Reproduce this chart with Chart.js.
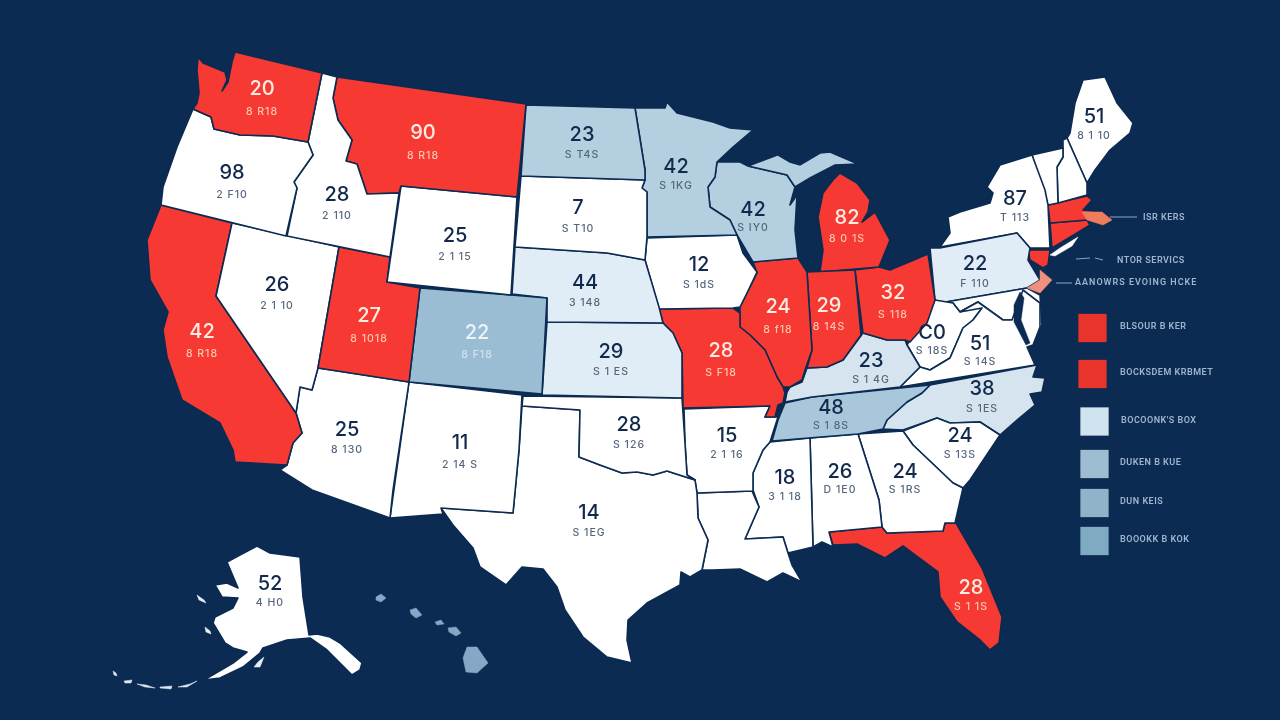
<!DOCTYPE html>
<html>
<head>
<meta charset="utf-8">
<title>US map</title>
<script src="https://cdn.jsdelivr.net/npm/chart.js@4/dist/chart.umd.min.js"></script>
<style>
html, body { margin: 0; padding: 0; background: #0c2b52; }
canvas { display: block; }
</style>
</head>
<body>
<canvas id="mapChart" width="1280" height="720"></canvas>
<script>
// values
const stateCodes  = ["WA","MT","OR","ID","WY","CA","NV","UT","CO","AZ","NM","ND","SD","NE","KS","OK","TX","MN","IA","MO","AR","WI","IL","IN","MI","OH","KY","TN","MS","AL","GA","FL","SC","NC","VA","WV","PA","NY","ME","AK"];
const stateValues = ["20","90","98","28","25","42","26","27","22","25","11","23","7","44","29","28","14","42","12","28","15","42","24","29","82","32","23","48","18","26","24","28","24","38","51","C0","22","87","51","52"];
const stateNotes  = ["8 R18","8 R18","2 F10","2 110","2 1 15","8 R18","2 1 10","8 1018","8 F18","8 130","2 14 S","S T4S","S T10","3 148","S 1 ES","S 126","S 1EG","S 1KG","S 1dS","S F18","2 1 16","S IY0","8 f18","8 14S","8 0 1S","S 118","S 1 4G","S 1 8S","3 1 18","D 1E0","S 1RS","S 1 1S","S 13S","S 1ES","S 14S","S 18S","F 110","T 113","8 1 10","4 H0"];
const stateTones  = ["red","red","white","white","white","red","white","red","steel","white","white","mist","white","ice","ice","white","white","mist","white","red","white","mist","red","red","red","red","pale","sky","white","white","white","red","white","pale","white","white","ice","white","white","white"];

const calloutLabels = ["ISR KERS", "NTOR SERVICS", "AANOWRS EVOING HCKE"];
const legendLabels  = ["BLSOUR B KER", "BOCKSDEM KRBMET", "BOCOONK'S BOX", "DUKEN B KUE", "DUN KEIS", "BOOOKK B KOK"];
const legendTones   = ["#e8342d", "#e8342d", "#d0e4ef", "#9fbdd2", "#90b3c9", "#7eaac2"];

const toneColors = { red: "#f63a33", white: "#ffffff", ice: "#e0edf6", pale: "#d5e4ef", mist: "#b4cfdf", sky: "#a9c7da", steel: "#9bbdd3" };
const inkColor = "#0c2b52";

// outlines in map units, the scales below turn them into pixels
const stateOutlines = {
  WA: [198,57,203,63,225,72,227,80,222,91,228,82,232,62,235,52,322,73,308,142,273,136,240,135,214,129,211,117,193,109,197,103,199,93,197,70],
  OR: [193,109,211,117,214,129,240,135,273,136,308,142,313,155,294,182,297,188,286,236,161,205,163,187,177,147],
  ID: [322,73,337,77,333,98,338,120,352,140,346,161,357,164,367,194,399,193,390,257,287,236,297,188,294,182,313,155,308,142],
  MT: [337,77,526,104,517,197,401,186,399,193,367,194,357,164,346,161,352,140,338,120,333,98],
  WY: [401,186,517,197,511,295,387,282],
  UT: [339,247,390,257,387,282,420,288,409,382,318,368],
  CO: [420,288,511,295,547,298,542,394,409,382],
  NV: [232,223,339,247,318,368,312,390,300,387,296,413,216,296],
  CA: [161,205,232,223,216,296,296,413,302,433,293,443,287,465,235,462,233,450,220,423,182,400,167,357,163,330,168,312,150,280,147,240],
  AZ: [318,368,409,382,393,490,390,518,312,490,280,470,287,465,293,443,302,433,296,413,300,387,312,390],
  NM: [409,382,522,395,519,450,513,513,441,508,443,514,390,518],
  ND: [526,105,635,108,645,170,645,180,521,176],
  SD: [521,176,645,180,642,188,647,192,647,237,645,260,618,255,607,253,515,247],
  NE: [515,247,607,253,618,255,645,260,659,307,663,323,547,322,547,298,512,294],
  KS: [547,322,663,323,673,333,682,353,682,398,542,395],
  OK: [523,396,682,398,685,443,687,475,695,480,667,471,653,475,637,472,622,473,600,465,579,457,580,410,522,406],
  TX: [522,406,580,410,579,457,600,465,622,473,637,472,653,475,667,471,695,480,697,493,698,518,708,540,702,570,690,577,681,572,680,585,647,603,628,620,627,640,632,663,607,657,583,637,565,610,557,587,543,569,522,567,506,585,480,567,473,548,453,525,441,508,513,513,519,450],
  MN: [635,108,665,108,667,102,677,113,713,122,730,128,753,130,733,147,717,162,715,177,708,187,710,207,730,220,737,235,647,237,647,192,642,188,645,180,645,170],
  IA: [647,238,737,235,743,253,757,272,747,293,740,307,733,308,659,309,645,260],
  MO: [659,309,733,308,740,313,740,327,750,335,765,350,777,377,783,387,785,393,783,403,778,405,775,417,765,417,770,406,683,408,682,353,673,333,663,323],
  AR: [684,409,770,406,765,417,778,417,770,442,763,450,753,473,753,491,697,493,695,480,687,475,685,443],
  LA: [697,493,752,491,759,507,745,539,783,537,788,553,792,565,802,582,783,573,767,582,740,569,713,570,702,570,708,540,698,518],
  WI: [717,162,740,162,748,166,787,175,795,187,790,205,797,195,795,230,798,258,753,262,737,235,730,220,710,207,708,187,715,177],
  IL: [753,262,798,258,807,272,812,350,805,370,802,380,790,387,783,387,777,377,765,350,750,335,740,327,740,307,747,293,757,273],
  IN: [807,272,855,270,861,335,843,360,827,367,807,368,812,350],
  MI: [840,173,857,183,870,200,868,212,862,222,875,212,890,240,879,267,820,272,823,250,818,217,823,193,833,180],
  OH: [855,270,879,267,890,270,928,254,935,300,927,323,910,342,905,340,887,340,863,333],
  KY: [787,392,785,402,812,397,900,387,920,367,907,345,905,340,887,340,863,333,843,360,827,367,807,368,802,382,790,387],
  TN: [785,403,812,397,930,385,922,393,907,402,887,420,883,429,858,434,772,441,778,420],
  MS: [770,442,810,438,813,547,788,553,783,537,745,539,759,507,753,490,753,473,763,450],
  AL: [810,438,858,434,879,500,882,527,829,532,833,547,822,542,813,547],
  GA: [858,434,903,431,913,445,953,483,963,488,955,523,945,523,943,531,887,533,882,527,879,500],
  FL: [829,532,882,527,887,533,943,531,945,523,956,523,982,568,1002,617,999,643,990,650,980,640,957,622,940,597,938,572,903,546,885,558,857,544,833,545],
  SC: [903,431,937,418,950,423,980,422,1000,435,970,480,963,488,953,483,913,445],
  NC: [930,385,1037,365,1033,377,1045,378,1042,392,1030,394,1035,405,1017,420,1000,435,980,422,950,423,937,418,903,430,883,429,887,420,907,402,922,393],
  VA: [960,312,978,302,1003,320,1012,320,1023,290,1040,303,1040,327,1033,345,1027,347,1035,365,900,387,920,367,930,370,950,358,963,328,973,320,982,308],
  WV: [907,345,913,335,920,323,935,300,953,303,960,312,978,302,982,308,973,320,963,328,950,358,930,370,920,367],
  MD: [940,303,1027,288,1040,295,1042,325,1030,345,1012,320,1003,320,978,302,960,312,953,303],
  PA: [930,248,940,248,1017,233,1030,248,1028,260,1040,280,1027,288,940,303,935,300],
  NY: [940,247,950,233,948,217,960,212,990,203,993,193,987,187,1000,165,1032,155,1045,190,1048,205,1050,248,1030,248,1017,233],
  VT: [1032,155,1063,148,1063,157,1057,167,1058,203,1048,205],
  NH: [1063,140,1067,138,1087,183,1087,195,1058,203,1057,167,1063,157],
  ME: [1067,138,1070,133,1075,103,1083,80,1105,77,1117,103,1133,123,1130,133,1110,150,1095,170,1087,183],
  MA: [1048,205,1087,196,1092,200,1083,210,1102,212,1112,220,1103,225,1087,220,1050,223],
  CT: [1050,223,1087,220,1090,225,1077,233,1052,248],
  NJ: [1028,250,1050,250,1048,265,1043,268,1030,260],
  AK: [257,546,270,553,300,557,303,597,309,635,317,634,330,637,340,643,362,663,360,670,352,675,327,650,310,638,287,640,263,648,260,653,243,667,220,678,204,680,233,663,247,652,233,648,225,643,213,623,215,617,233,608,238,598,222,597,215,585,227,583,238,588,227,562,240,555]
};

// bits of land and water that carry no label
const extraShapes = [
  { path: [748,166,777,155,785,140,778,155,790,162,800,165,820,153,830,152,858,164,835,165,810,178,795,187,787,175], fill: "#b4cfdf", line: true },
  { path: [1040,270,1052,280,1040,293,1027,288,1040,280], fill: "#ef8f80", line: false },
  { path: [1082,212,1102,212,1112,220,1103,225,1087,220], fill: "#ee7d5e", line: false },
  { path: [1020,292,1024,298,1021,320,1030,343,1026,345,1014,322,1014,305], fill: inkColor, line: false },
  { path: [1050,255,1060,248,1078,237,1072,246,1055,256], fill: "#ffffff", line: false },
  { path: [258,662,264,657,260,667,254,667], fill: "#e8f0f6", line: false },
  { path: [197,595,204,600,206,603,199,600], fill: "#e8f0f6", line: false },
  { path: [205,627,210,631,211,634,206,632], fill: "#e8f0f6", line: false },
  { path: [113,671,116,673,117,676,114,675], fill: "#dce8f0", line: false },
  { path: [124,681,132,680,131,683,125,683], fill: "#dce8f0", line: false },
  { path: [137,684,146,685,155,688,145,687], fill: "#dce8f0", line: false },
  { path: [160,687,172,686,171,689,160,688], fill: "#dce8f0", line: false },
  { path: [178,687,190,684,197,681,187,687], fill: "#dce8f0", line: false },
  { path: [376,597,381,594,386,598,381,602,376,600], fill: "#86a8c6", line: false },
  { path: [410,610,416,608,422,615,416,618,411,614], fill: "#86a8c6", line: false },
  { path: [435,622,441,620,444,624,437,625], fill: "#86a8c6", line: false },
  { path: [448,628,456,627,461,633,456,636,449,632], fill: "#86a8c6", line: false },
  { path: [467,647,477,647,488,663,477,673,466,672,463,658], fill: "#86a8c6", line: false }
];

const calloutRules = [
  { path: [1110,217,1137,217], width: 1 },
  { path: [1076,259,1090,258], width: 1 },
  { path: [1095,258,1103,260], width: 1 },
  { path: [1056,283,1072,283], width: 1 }
];

const labelX = [262,423,232,337,455,202,277,369,477,347,460,582,578,585,611,629,589,676,699,721,727,753,778,829,847,893,871,831,785,840,905,971,960,982,980,932,975,1015,1094,270];
const labelY = [89,133,173,195,236,332,285,316,333,430,443,135,208,283,352,425,513,167,265,351,436,210,307,306,218,293,361,408,478,472,472,588,436,389,344,333,264,199,117,584];
const noteY  = [112,156,195,216,257,354,306,339,355,450,465,155,229,303,372,445,533,186,285,373,455,228,330,327,239,315,380,426,497,490,490,607,455,409,362,351,284,218,136,603];

const calloutX = [1143,1117,1075];
const calloutY = [218,261,283];
const calloutSpacing = ["0.5px","0.5px","1px"];
const legendX = [1092.5,1092.5,1094.5,1094.5,1094.5,1094.5];
const legendY = [328,374,421.5,464,503,541];
const legendTextX = [1120,1120,1121,1120,1120,1120];

function toPoints(flat){
    const points = [];
    for(let i = 0; i < flat.length; i += 2){
        points.push({ x: flat[i], y: flat[i + 1] });
    }
    points.push({ x: flat[0], y: flat[1] });
    return points;
}

const datasets = [];

Object.keys(stateOutlines).forEach(code => {
    const idx = stateCodes.indexOf(code);
    let fill = "#ffffff";
    if(idx >= 0) fill = toneColors[stateTones[idx]];
    if(code === "MA" || code === "CT" || code === "NJ") fill = toneColors.red;
    datasets.push({
        label: code,
        data: toPoints(stateOutlines[code]),
        showLine: true,
        fill: "shape",
        backgroundColor: fill,
        borderColor: inkColor,
        borderWidth: 1.6,
        borderJoinStyle: "round",
        pointRadius: 0,
        tension: 0,
        order: 5
    });
});

extraShapes.forEach(shape => {
    datasets.push({
        data: toPoints(shape.path),
        showLine: true,
        fill: "shape",
        backgroundColor: shape.fill,
        borderColor: shape.line ? inkColor : shape.fill,
        borderWidth: shape.line ? 1.6 : 0.5,
        pointRadius: 0,
        tension: 0,
        order: 2
    });
});

calloutRules.forEach(rule => {
    const flat = rule.path;
    datasets.push({
        data: [{ x: flat[0], y: flat[1] }, { x: flat[2], y: flat[3] }],
        showLine: true,
        borderColor: "#8ea7c2",
        borderWidth: rule.width,
        pointRadius: 0,
        order: 1
    });
});

// legend squares
datasets.push({
    data: legendX.map((x, i) => ({ x: x, y: legendY[i] })),
    showLine: false,
    pointStyle: "rect",
    pointRadius: 20,
    pointBorderWidth: 0,
    pointBackgroundColor: legendTones,
    order: 1
});

// numbers and small notes on top of the map
const mapText = {
    id: "mapText",
    afterDatasetsDraw(chart){
        const ctx = chart.ctx;
        const xs = chart.scales.x;
        const ys = chart.scales.y;
        ctx.save();
        ctx.textBaseline = "middle";

        stateCodes.forEach((code, i) => {
            const red = stateTones[i] === "red";
            const steel = stateTones[i] === "steel";
            ctx.textAlign = "center";
            ctx.letterSpacing = "0px";
            ctx.font = "500 20px Inter, Roboto, sans-serif";
            ctx.fillStyle = red ? "#ffece2" : steel ? "#eaf3f8" : "#10294c";
            ctx.fillText(stateValues[i], xs.getPixelForValue(labelX[i]), ys.getPixelForValue(labelY[i]));
            ctx.letterSpacing = "1px";
            ctx.font = "500 10.5px Inter, Roboto, sans-serif";
            ctx.fillStyle = red ? "#ffc7b0" : steel ? "#cfe2ee" : "#55677c";
            ctx.fillText(stateNotes[i], xs.getPixelForValue(labelX[i]), ys.getPixelForValue(noteY[i]));
        });

        ctx.textAlign = "left";
        ctx.fillStyle = "#9db5cf";
        ctx.font = "600 9px Roboto, sans-serif";
        calloutLabels.forEach((text, i) => {
            ctx.letterSpacing = calloutSpacing[i];
            ctx.fillText(text, xs.getPixelForValue(calloutX[i]), ys.getPixelForValue(calloutY[i]));
        });
        ctx.letterSpacing = "0.5px";
        legendLabels.forEach((text, i) => {
            ctx.fillText(text, xs.getPixelForValue(legendTextX[i]), ys.getPixelForValue(legendY[i] - 1));
        });
        ctx.restore();
    }
};

new Chart(document.getElementById("mapChart"), {
    type: "scatter",
    data: { datasets: datasets },
    plugins: [mapText],
    options: {
        responsive: false,
        animation: false,
        devicePixelRatio: 1,
        layout: { autoPadding: false, padding: 0 },
        plugins: {
            legend: { display: false },
            tooltip: { enabled: false }
        },
        scales: {
            x: { type: "linear", min: 0, max: 1280, display: false },
            y: { type: "linear", min: 0, max: 720, reverse: true, display: false }
        }
    }
});
</script>
</body>
</html>
